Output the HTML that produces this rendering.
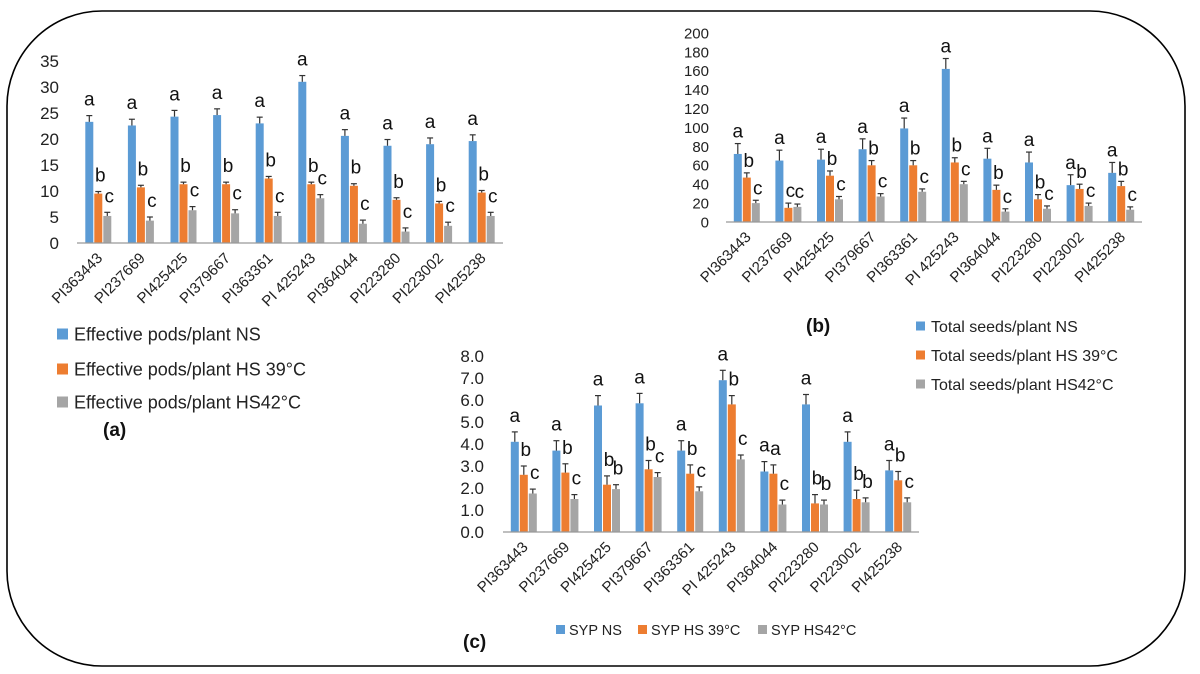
<!DOCTYPE html>
<html><head><meta charset="utf-8"><style>
html,body{margin:0;padding:0;background:#fff;width:1200px;height:674px;overflow:hidden}
svg{display:block;font-family:"Liberation Sans","DejaVu Sans",sans-serif}
</style></head><body>
<svg id="svg" width="1200" height="674" viewBox="0 0 1200 674">
<rect x="7" y="11" width="1178" height="655" rx="95" ry="95" fill="none" stroke="#000" stroke-width="1.6"/>
</svg>
<script>
const categories = ["PI363443","PI237669","PI425425","PI379667","PI363361","PI 425243","PI364044","PI223280","PI223002","PI425238"];
const colors = ["#5B9BD5","#ED7D31","#A5A5A5"];

const aNS   = [23.3,22.6,24.3,24.6,23.0,31.0,20.6,18.7,19.0,19.6];
const aHS39 = [9.5,10.7,11.3,11.3,12.4,11.3,11.0,8.3,7.6,9.7];
const aHS42 = [5.2,4.3,6.3,5.7,5.2,8.6,3.7,2.2,3.3,5.2];
const aErr  = [1.2,0.4,0.7];
const aTicks = ["0","5","10","15","20","25","30","35"];
const aLetNS = ["a","a","a","a","a","a","a","a","a","a"];
const aLet39 = ["b","b","b","b","b","b","b","b","b","b"];
const aLet42 = ["c","c","c","c","c","c","c","c","c","c"];

const bNS   = [72,65,66,77,99,162,67,63,39,52];
const bHS39 = [47,15,49,60,60,63,34,24,35,38];
const bHS42 = [20,16,24,27,32,40,11,14,17,13];
const bErr  = [11,5,3];
const bTicks = ["0","20","40","60","80","100","120","140","160","180","200"];
const bLetNS = ["a","a","a","a","a","a","a","a","a","a"];
const bLet39 = ["b","c","b","b","b","b","b","b","b","b"];
const bLet42 = ["c","c","c","c","c","c","c","c","c","c"];

const cNS   = [4.1,3.7,5.75,5.85,3.7,6.9,2.75,5.8,4.1,2.8];
const cHS39 = [2.6,2.7,2.15,2.85,2.65,5.8,2.65,1.3,1.5,2.35];
const cHS42 = [1.75,1.5,1.95,2.5,1.85,3.3,1.25,1.25,1.35,1.35];
const cErr  = [0.45,0.4,0.2];
const cTicks = ["0.0","1.0","2.0","3.0","4.0","5.0","6.0","7.0","8.0"];
const cLetNS = ["a","a","a","a","a","a","a","a","a","a"];
const cLet39 = ["b","b","b","b","b","b","a","b","b","b"];
const cLet42 = ["c","c","b","c","c","c","c","b","b","c"];

const NS = "http://www.w3.org/2000/svg";
const svg = document.getElementById("svg");
function el(tag, attrs, parent){const e=document.createElementNS(NS,tag);for(const k in attrs)e.setAttribute(k,attrs[k]);(parent||svg).appendChild(e);return e;}

function drawChart(cfg){
  const g = el("g",{});
  
  
  const maxV = cfg.max;
  const y = v => cfg.y0 - (v/maxV)*(cfg.y0-cfg.yTop);
  const gw = (cfg.x1-cfg.x0)/categories.length;
  const xc = i => cfg.x0 + gw*(i+0.5);
  cfg.ticks.forEach((t,i)=>{
    const v = maxV*i/(cfg.ticks.length-1);
    const tx = el("text",{x:cfg.tickX,y:y(v)+cfg.tickFs*0.36,"text-anchor":"end","font-size":cfg.tickFs,fill:"#222"},g);
    tx.textContent=t;
    
    
  });
  const series=[cfg.s[0],cfg.s[1],cfg.s[2]];
  const lets=[cfg.l[0],cfg.l[1],cfg.l[2]];
  const bw = cfg.bw;
  categories.forEach((c,i)=>{
    series.forEach((s,k)=>{
      const bx = xc(i) - 1.5*bw + k*bw + 0.5;
      const top = y(s[i]);
      const r = el("rect",{x:bx,y:top,width:bw-1,height:cfg.y0-top,fill:colors[k]},g);
      
      
      const et = y(s[i]+cfg.err[k]);
      const mx = bx+(bw-1)/2;
      el("line",{x1:mx,x2:mx,y1:top,y2:et,stroke:"#333","stroke-width":1.2},g);
      el("line",{x1:mx-3,x2:mx+3,y1:et,y2:et,stroke:"#333","stroke-width":1.2},g);
      const lt = el("text",{x:mx+(k? 2:0),y:et-cfg.lOff,"text-anchor":"middle","font-size":cfg.lFs,fill:"#111"},g);
      lt.textContent = lets[k][i];
      
      
    });
    const cl = el("text",{x:0,y:0,"text-anchor":"end","font-size":cfg.catFs,fill:"#222",transform:`translate(${xc(i)+5},${cfg.y0+16}) rotate(-45)`},g);
    cl.textContent=c;
    
    
  });
  const ax = el("line",{x1:cfg.x0,x2:cfg.x1,y1:cfg.y0,y2:cfg.y0,stroke:"#999","stroke-width":1.3},g);
  
  
}

drawChart({name:"chart-a-effective-pods",x0:77,x1:503,y0:243,yTop:61,max:35,ticks:aTicks,tickX:59,tickFs:17,bw:9,
  s:[aNS,aHS39,aHS42],l:[aLetNS,aLet39,aLet42],err:aErr,lOff:10,lFs:19,catFs:15});
drawChart({name:"chart-b-total-seeds",x0:726,x1:1142,y0:222,yTop:33,max:200,ticks:bTicks,tickX:709,tickFs:15,bw:9,
  s:[bNS,bHS39,bHS42],l:[bLetNS,bLet39,bLet42],err:bErr,lOff:6,lFs:19,catFs:15});
drawChart({name:"chart-c-syp",x0:503,x1:919,y0:532,yTop:356,max:8,ticks:cTicks,tickX:484,tickFs:17,bw:9,
  s:[cNS,cHS39,cHS42],l:[cLetNS,cLet39,cLet42],err:cErr,lOff:10,lFs:19,catFs:15});

function legend(items, x, ys, fs, sq, name){
  items.forEach((t,k)=>{
    const r=el("rect",{x:x,y:ys[k]-sq/2,width:sq,height:sq,fill:colors[k]});
    
    
    const tx=el("text",{x:x+sq+6,y:ys[k]+fs*0.36,"font-size":fs,fill:"#222"});
    tx.textContent=t;
    
    
  });
}
legend(["Effective pods/plant NS","Effective pods/plant HS 39°C","Effective pods/plant HS42°C"],57,[334,369,402],18,11,"legend-a");
legend(["Total seeds/plant NS","Total seeds/plant HS 39°C","Total seeds/plant HS42°C"],916,[326,355,384],16,9,"legend-b");
[["SYP NS",556],["SYP HS 39°C",638],["SYP HS42°C",758]].forEach((d,k)=>{
  const r=el("rect",{x:d[1],y:625,width:9,height:9,fill:colors[k]});
  
  
  const tx=el("text",{x:d[1]+13,y:635,"font-size":14.5,fill:"#222"});
  tx.textContent=d[0];
  
  
});
[["(a)",103,436],["(b)",806,332],["(c)",463,648]].forEach(d=>{
  const tx=el("text",{x:d[1],y:d[2],"font-size":19,"font-weight":"bold",fill:"#111"});
  tx.textContent=d[0];
  
  
});
</script>
</body></html>
